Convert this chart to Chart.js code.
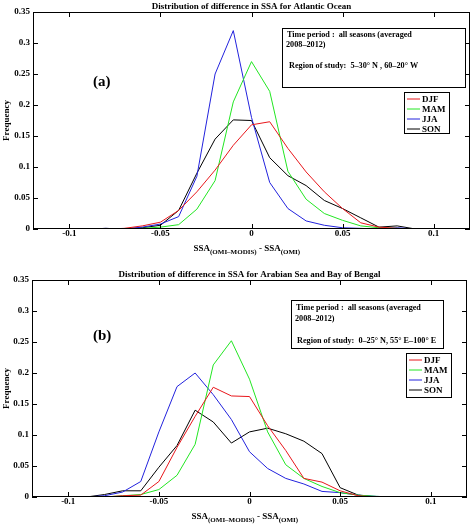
<!DOCTYPE html>
<html><head><meta charset="utf-8">
<script src="https://cdn.jsdelivr.net/npm/chart.js@4"></script>
<style>body{margin:0;background:#fff}#a{position:absolute;left:0;top:0;width:474px;height:260px}#b{position:absolute;left:0;top:260px;width:474px;height:269px}</style>
</head><body>
<div id="a"><canvas id="ca"></canvas></div>
<div id="b"><canvas id="cb"></canvas></div>
<script>
const xA = [-0.1,-0.09,-0.08,-0.07,-0.06,-0.05,-0.04,-0.03,-0.02,-0.01,0,0.01,0.02,0.03,0.04,0.05,0.06,0.07,0.08,0.09,0.1];
const djfA = [0,0,0,0.001,0.005,0.011,0.03,0.06,0.095,0.135,0.168,0.173,0.13,0.092,0.06,0.033,0.01,0.003,0.001,0,0];
const mamA = [0,0,0,0,0.001,0.003,0.007,0.032,0.078,0.205,0.27,0.222,0.093,0.048,0.025,0.014,0.005,0.002,0.001,0,0];
const jjaA = [0,0,0.001,0,0.003,0.008,0.02,0.085,0.25,0.32,0.18,0.075,0.033,0.013,0.006,0.002,0.001,0,0.002,0,0];
const sonA = [0,0,0.001,0,0.002,0.006,0.03,0.09,0.145,0.176,0.175,0.115,0.086,0.07,0.046,0.033,0.018,0.003,0.005,0,0];
const xB = [-0.09,-0.08,-0.07,-0.06,-0.05,-0.04,-0.03,-0.02,-0.01,0,0.01,0.02,0.03,0.04,0.05,0.06,0.07,0.08];
const djfB = [0,0,0.002,0.003,0.025,0.08,0.13,0.177,0.163,0.162,0.115,0.075,0.03,0.024,0.01,0.002,0,0];
const mamB = [0,0,0.002,0.004,0.012,0.035,0.085,0.213,0.252,0.19,0.105,0.052,0.03,0.017,0.007,0.003,0.001,0];
const jjaB = [0,0.002,0.008,0.025,0.105,0.178,0.2,0.165,0.125,0.073,0.046,0.03,0.021,0.009,0.007,0.003,0.001,0];
const sonB = [0,0.004,0.01,0.01,0.048,0.083,0.14,0.121,0.087,0.105,0.111,0.102,0.09,0.07,0.015,0.003,0,0];
const xTicks = [-0.1,-0.05,0,0.05,0.1];
const yTicks = [0,0.05,0.1,0.15,0.2,0.25,0.3,0.35];
const seasons = ['DJF','MAM','JJA','SON'];
const colors = ['#e8161b','#22e622','#2222dd','#000000'];
const F = '"Liberation Serif", serif';

function pts(x,y){return x.map((v,i)=>({x:v,y:y[i]}));}

function make(id, xs, series, cfg){
  const deco = {
    id:'deco',
    afterDraw(ch){
      const c=ch.ctx, a=ch.chartArea, sx=ch.scales.x, sy=ch.scales.y;
      c.save();
      c.strokeStyle='#000'; c.lineWidth=1;
      c.strokeRect(a.left+0.5,a.top+0.5,a.right-a.left-1,a.bottom-a.top-1);
      c.beginPath();
      xTicks.forEach(v=>{const p=Math.round(sx.getPixelForValue(v))+0.5;c.moveTo(p,a.bottom);c.lineTo(p,a.bottom-5);c.moveTo(p,a.top);c.lineTo(p,a.top+5);});
      yTicks.forEach(v=>{const p=Math.round(sy.getPixelForValue(v))+0.5;c.moveTo(a.left,p);c.lineTo(a.left+5,p);c.moveTo(a.right,p);c.lineTo(a.right-5,p);});
      c.stroke();
      c.fillStyle='#000';
      c.font='bold 9px '+F; c.textAlign='center'; c.textBaseline='alphabetic';
      c.fillText(cfg.title,(a.left+a.right)/2,a.top-3);
      // x title
      const xt = a.bottom+22; let cx=(a.left+a.right)/2-58;
      const parts=[['SSA',0,9],['(OMI\u2013MODIS)',3,7],[' - SSA',0,9],['(OMI)',3,7]];
      c.textAlign='left';
      parts.forEach(p=>{c.font='bold '+p[2]+'px '+F;c.fillText(p[0],cx,xt+p[1]);cx+=c.measureText(p[0]).width;});
      // y title
      c.save(); c.translate(9,(a.top+a.bottom)/2); c.rotate(-Math.PI/2);
      c.font='bold 9px '+F; c.textAlign='center'; c.fillText('Frequency',0,0); c.restore();
      // info box
      const b=cfg.box; c.strokeRect(b[0]+0.5,b[1]+0.5,b[2],b[3]);
      c.font='bold 8.2px '+F; c.textAlign='left';
      cfg.lines.forEach(l=>c.fillText(l[0],l[1],l[2]));
      c.font='bold 15px '+F; c.fillText(cfg.label[0],cfg.label[1],cfg.label[2]);
      // legend
      const L=cfg.leg; c.fillStyle='#fff'; c.fillRect(L[0],L[1],L[2],L[3]); c.strokeRect(L[0]+0.5,L[1]+0.5,L[2],L[3]);
      c.font='bold 9px '+F;
      seasons.forEach((s,i)=>{const y=L[1]+7+i*10;c.strokeStyle=colors[i];c.beginPath();c.moveTo(L[0]+3,y);c.lineTo(L[0]+16,y);c.stroke();c.fillStyle='#000';c.textBaseline='middle';c.fillText(s,L[0]+18,y+0.5);});
      c.restore();
    }
  };
  new Chart(document.getElementById(id),{
    type:'line',
    data:{datasets:series.map((s,i)=>({label:seasons[i],data:pts(xs,s),borderColor:colors[i],borderWidth:1,pointRadius:0,tension:0,fill:false}))},
    options:{
      responsive:true,maintainAspectRatio:false,animation:false,
      layout:{padding:{top:cfg.pt,right:cfg.pr,left:0,bottom:0}},
      plugins:{legend:{display:false},tooltip:{enabled:false}},
      scales:{
        x:{type:'linear',min:-0.12,max:0.12,afterFit:s=>{s.height=cfg.xh;},
           afterBuildTicks:s=>{s.ticks=xTicks.map(v=>({value:v}));},
           grid:{display:false,drawTicks:false},border:{display:false},
           ticks:{color:'#000',font:{family:F,weight:'bold',size:9},padding:-1,maxRotation:0,callback:v=>String(v)}},
        y:{min:0,max:0.35,afterFit:s=>{s.width=cfg.yw;},
           afterBuildTicks:s=>{s.ticks=yTicks.map(v=>({value:v}));},
           grid:{display:false,drawTicks:false},border:{display:false},
           ticks:{color:'#000',font:{family:F,weight:'bold',size:9},padding:3,callback:v=>String(v)}}
      }
    },
    plugins:[deco]
  });
}
make('ca',xA,[djfA,mamA,jjaA,sonA],{
  title:'Distribution of difference in SSA for Atlantic Ocean',pt:12,pr:4,xh:31,yw:33,
  box:[282,28,183,59],
  lines:[['Time period :  all seasons (averaged',287,37],['2008\u20132012)',286,47],['Region of study:  5\u201330\u00b0 N , 60\u201320\u00b0 W',289,68]],
  label:['(a)',93,86], leg:[404,92,45,41]
});
make('cb',xB,[djfB,mamB,jjaB,sonB],{
  title:'Distribution of difference in SSA for Arabian Sea and Bay of Bengal',pt:20,pr:7,xh:32,yw:32,
  box:[291,40,152,48],
  lines:[['Time period :  all seasons (averaged',296,50],['2008\u20132012)',295,61],['Region of study:  0\u201325\u00b0 N, 55\u00b0 E\u2013100\u00b0 E',297,83]],
  label:['(b)',93,80], leg:[406,93,45,44]
});
</script>
</body></html>
